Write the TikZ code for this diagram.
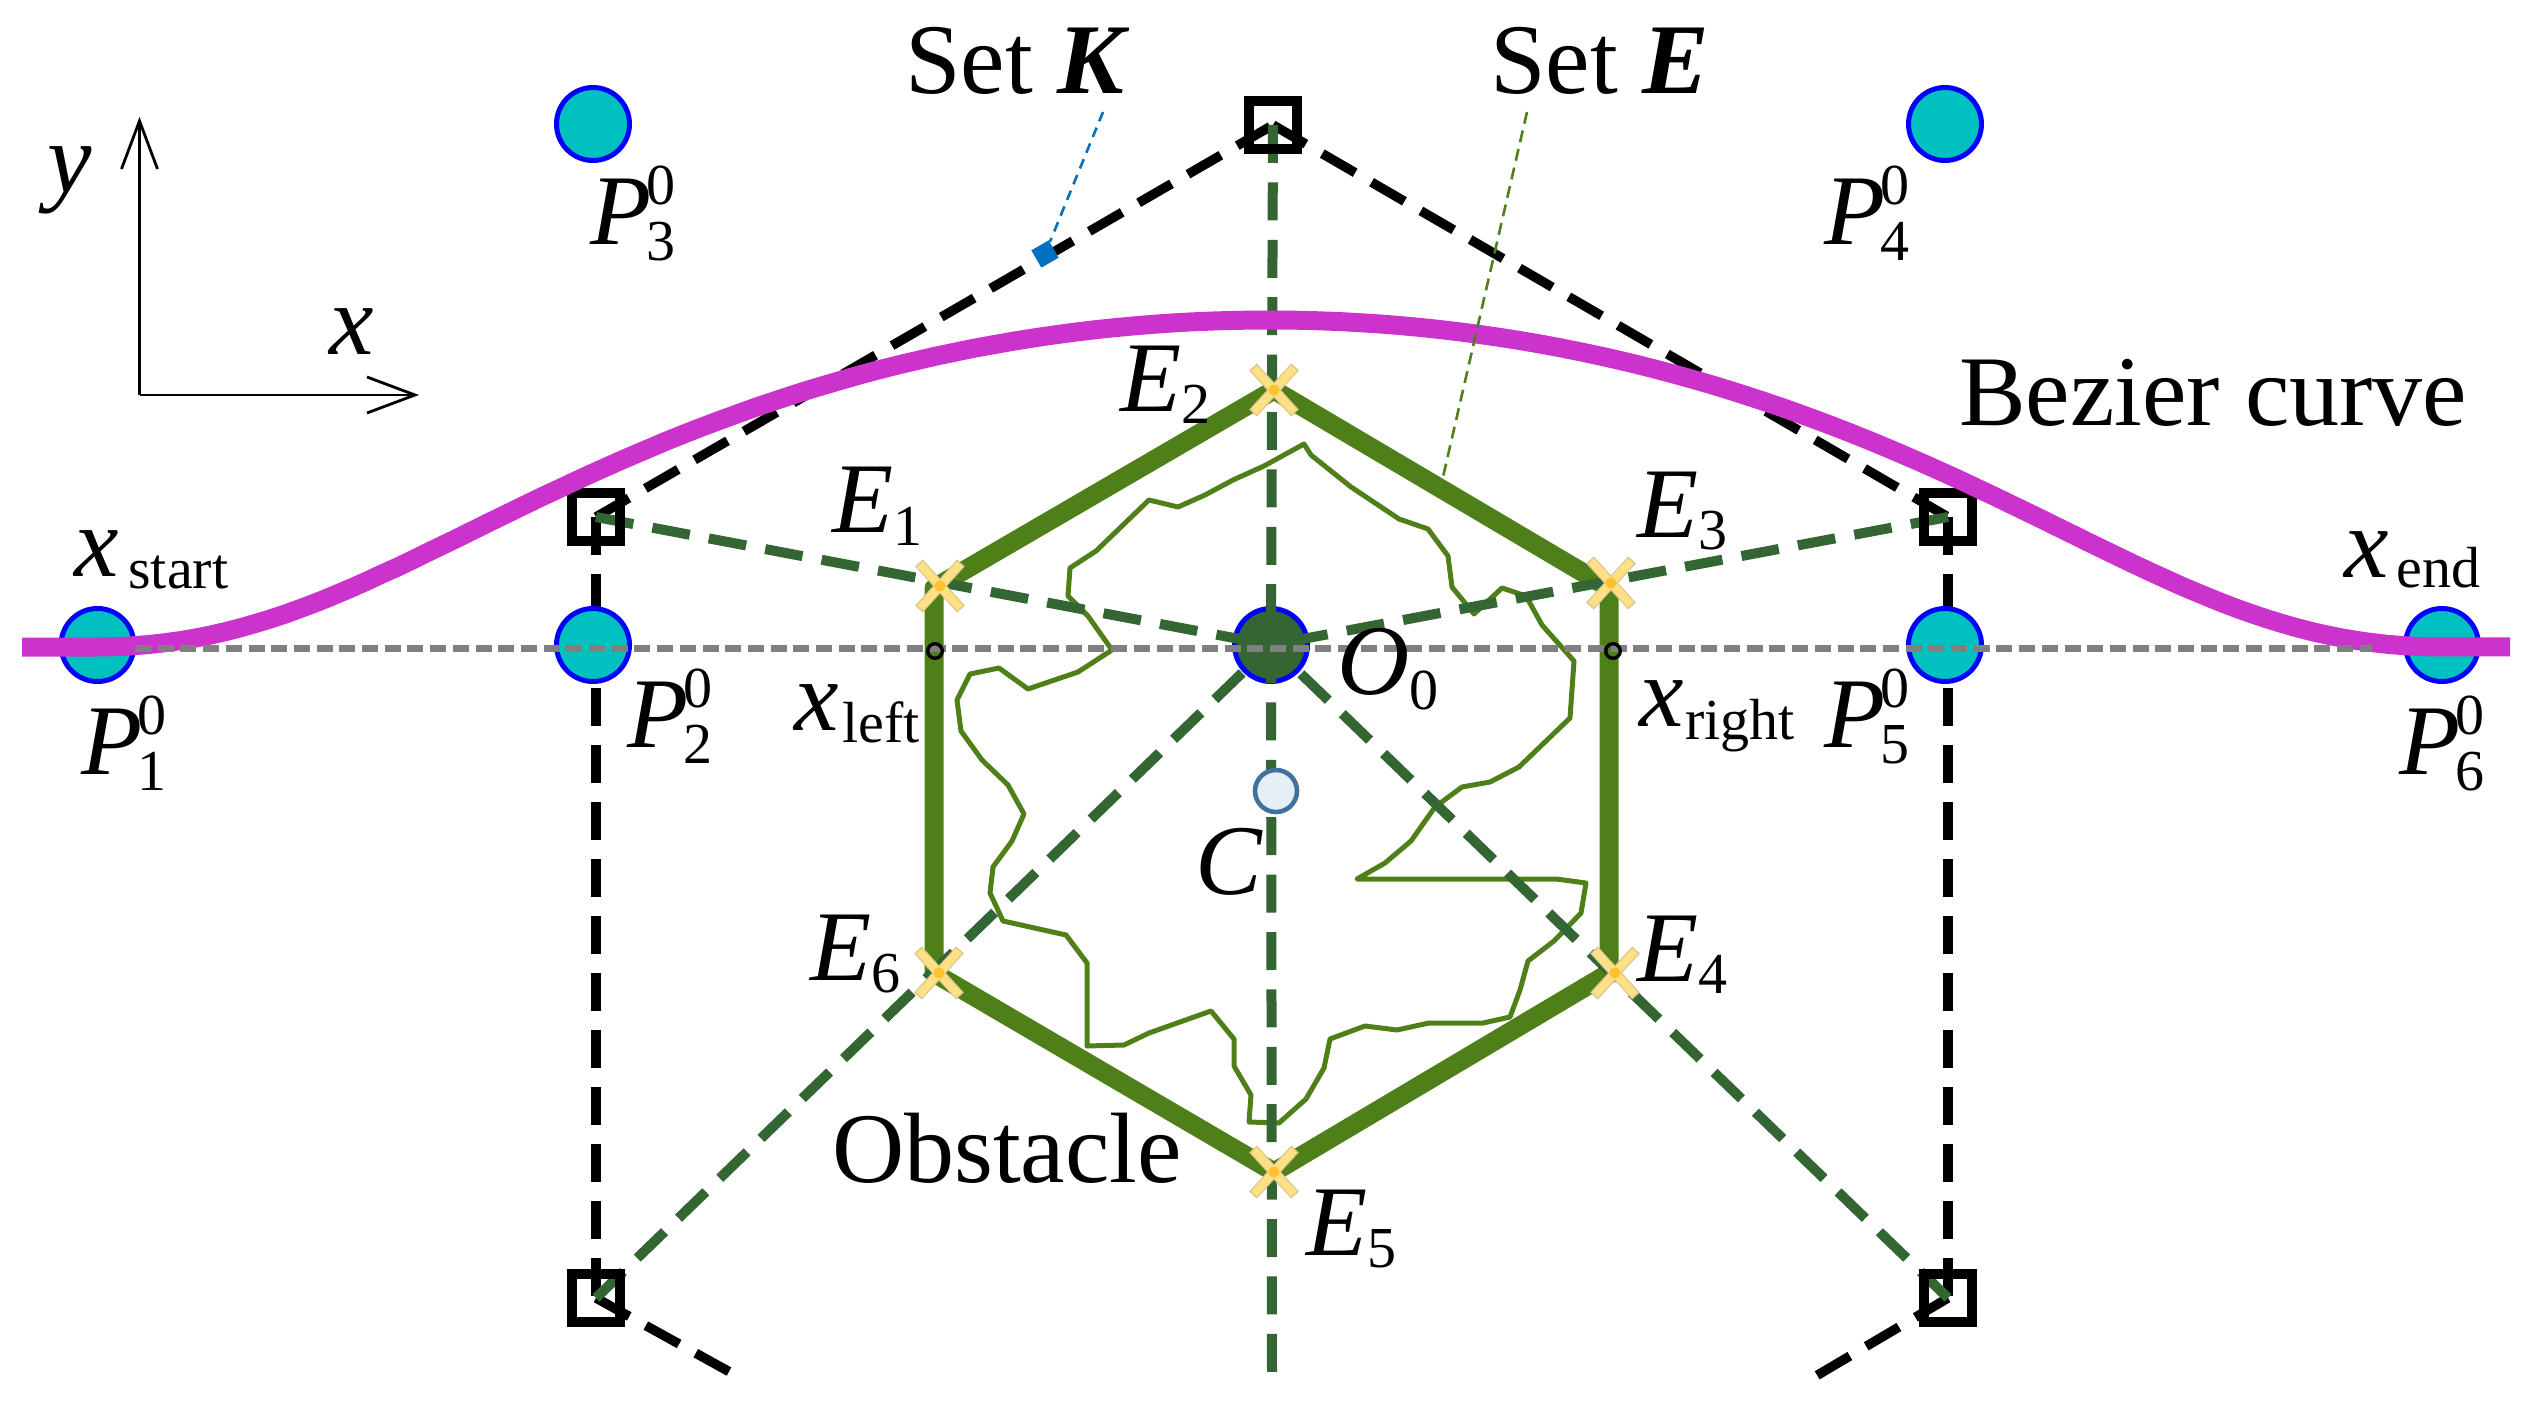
\documentclass[tikz,border=0pt]{standalone}
\usepackage{fontspec}
\setmainfont{Liberation Serif}
\usetikzlibrary{arrows.meta}
\definecolor{cyanfill}{HTML}{00C0C0}
\definecolor{ringblue}{HTML}{0000FF}
\definecolor{darkgr}{HTML}{336633}
\definecolor{hexgr}{HTML}{4F7F18}
\definecolor{magen}{HTML}{CC33CC}
\definecolor{setblue}{HTML}{0070C0}
\definecolor{xyellow}{HTML}{FFE084}
\definecolor{xedge}{HTML}{D8C48E}
\definecolor{xcore}{HTML}{FFC22E}
\definecolor{cring}{HTML}{41719C}
\definecolor{cpale}{HTML}{E6EFF8}
\definecolor{cmid}{HTML}{AECDE8}
\newcommand\sbf{\fontsize{29}{35}\selectfont}
\newcommand\PSym[1]{\textit{P}\kern-2.5pt\rlap{\raisebox{20pt}{\sbf 0}}\raisebox{-8pt}{\sbf #1}}
\newcommand\ESym[1]{\textit{E}\raisebox{-6pt}{\sbf #1}}
\tikzset{
  lab/.style={inner sep=0pt,outer sep=0pt,anchor=base west,font=\fontsize{50}{60}\selectfont},
  ctrl/.style={circle,draw=ringblue,fill=cyanfill,line width=2.5pt,minimum size=36.5pt,inner sep=0pt},
  sq/.style={rectangle,draw=black,line width=5pt,minimum size=24pt,inner sep=0pt},
  blackdash/.style={draw=black,line width=4.75pt,dash pattern=on 19pt off 9.5pt},
  greendash/.style={draw=darkgr,line width=5pt,dash pattern=on 19pt off 9.7pt},
  greydash/.style={draw=gray,line width=3.2pt,dash pattern=on 8pt off 3.35pt},
  hexline/.style={draw=hexgr,line width=9.5pt},
  blob/.style={draw=hexgr,line width=2.5pt,line join=round},
  axis/.style={draw=black,line width=1.4pt,-{Straight Barb[length=24pt,width=18pt,line width=1.4pt]}},
  xedgebar/.style={draw=xedge,line width=5.2pt},
  xbar/.style={draw=xyellow,line width=4pt},
  tick/.style={circle,draw=black,line width=1.7pt,minimum size=7.3pt,inner sep=0pt},
}
\begin{document}
\begin{tikzpicture}[x=0.5pt,y=-0.5pt]
\useasboundingbox (0,0) rectangle (2529,1401);
% vertices
\coordinate (E1) at (940,586);
\coordinate (E2) at (1274,390);
\coordinate (E3) at (1611,583);
\coordinate (E4) at (1615,973);
\coordinate (E5) at (1274,1172);
\coordinate (E6) at (939,973);
\coordinate (H1) at (934,588);
\coordinate (H3) at (1609,588);
\coordinate (H4) at (1609,973);
\coordinate (H6) at (934,973);
\coordinate (curveL) at (22,647);
\coordinate (curveR) at (2510,647);
\coordinate (greyL) at (135,648.5);
\coordinate (greyR) at (2372,648.5);
\coordinate (botL) at (737,1376);
\coordinate (botR) at (1816,1376);
\coordinate (botC) at (1272,1376);
\coordinate (kTop) at (1103,112);
\coordinate (eTop) at (1527,112);
\coordinate (eEnd) at (1443,477);
\coordinate (orig) at (139.5,395);
\coordinate (yTip) at (139.5,117);
\coordinate (xTip) at (419,395);
% squares (positions used for connectors)
\coordinate (S1) at (596,517);
\coordinate (S2) at (1273,125);
\coordinate (S3) at (1948,517);
\coordinate (S4) at (1948,1298);
\coordinate (S5) at (596,1298);
\coordinate (OC) at (1271,645);
% black dashed hull
\draw[blackdash] (S1) -- (S2);
\draw[blackdash] (S2) -- (S3);
\draw[blackdash] (S3) -- (S4);
\draw[blackdash] (S1) -- (S5);
\draw[blackdash] (S5) -- (botL);
\draw[blackdash] (S4) -- (botR);
% obstacle
\draw[blob] (1304,444) -- (1264,466) -- (1233,480) -- (1205,495) -- (1178,507) -- (1149,500) -- (1096,551) -- (1070,568) -- (1068,596) -- (1088,616) -- (1112,650) -- (1078,672) -- (1028,689) -- (999,668) -- (970,674) -- (957,700) -- (961,731) -- (982,760) -- (1008,785) -- (1024,814) -- (1012,841) -- (993,867) -- (990,893) -- (1003,921) -- (1066,935) -- (1087,963) -- (1087,1046) -- (1124,1045) -- (1149,1033) -- (1211,1011) -- (1234,1039) -- (1234,1066) -- (1251,1095) -- (1249,1122) -- (1279,1123) -- (1306,1099) -- (1324,1068) -- (1330,1039) -- (1365,1026) -- (1397,1030) -- (1429,1023) -- (1483,1023) -- (1510,1017) -- (1520,990) -- (1528,961) -- (1554,941) -- (1581,913) -- (1586,883) -- (1556,879) -- (1357,879) -- (1385,863) -- (1411,841) -- (1435,807) -- (1462,787) -- (1490,782) -- (1519,767) -- (1570,718) -- (1574,661) -- (1542,625) -- (1526,596) -- (1502,588) -- (1474,614) -- (1452,587) -- (1448,556) -- (1428,529) -- (1399,519) -- (1351,487) -- (1311,455) -- cycle;
% hexagon
\draw[hexline,line join=round] (H1) -- (E2) -- (H3) -- (H4) -- (E5) -- (H6) -- cycle;
% centre circle under its spokes
\node[ctrl,fill=darkgr] (O0) at (OC) {};
% green dashed spokes
\draw[greendash] (S1) -- (OC);
\draw[greendash] (S3) -- (OC);
\draw[greendash] (S5) -- (OC);
\draw[greendash] (S4) -- (OC);
\draw[greendash] (S2) -- (OC);
\draw[greendash] (OC) -- (botC);
% control circles
\node[ctrl] (P1) at (97.5,645) {};
\node[ctrl] (P2) at (593,645) {};
\node[ctrl] (P3) at (593,124) {};
\node[ctrl] (P4) at (1945,124) {};
\node[ctrl] (P5) at (1945,645) {};
\node[ctrl] (P6) at (2442,645) {};
% squares
\node[sq] (K1) at (S1) {};
\node[sq] (K2) at (S2) {};
\node[sq] (K3) at (S3) {};
\node[sq] (K4) at (S4) {};
\node[sq] (K5) at (S5) {};
% bezier
\draw[draw=magen,line width=9.5pt,line join=round] (curveL) -- plot[domain=0:1,samples=140,variable=\t]
 ({97*(1-\t)^5+(1-\t)^4*\t*5*593+(1-\t)^3*\t^2*10*593+(1-\t)^2*\t^3*10*1945+(1-\t)*\t^4*5*1945+\t^5*2442},
  {647*((1-\t)^5+(1-\t)^4*\t*5+(1-\t)*\t^4*5+\t^5)+((1-\t)^3*\t^2+(1-\t)^2*\t^3)*1240}) -- (curveR);
% grey axis
\draw[greydash] (greyL) -- (greyR);
% x marks
\foreach \v in {E1,E2,E3,E4,E5,E6}{
  \draw[xedgebar] ([shift={(-21,-23)}]\v) -- ([shift={(21,23)}]\v);
  \draw[xedgebar] ([shift={(21,-23)}]\v) -- ([shift={(-21,23)}]\v);
  \draw[xbar] ([shift={(-20,-22)}]\v) -- ([shift={(20,22)}]\v);
  \draw[xbar] ([shift={(20,-22)}]\v) -- ([shift={(-20,22)}]\v);
  \fill[xcore] (\v) circle[radius=2.8pt];
}
% small markers
\node[tick] (XL) at (935,651) {};
\node[tick] (XR) at (1613,651) {};
% C
\node[circle,draw=cring,line width=2.3pt,top color=cpale,middle color=cmid,bottom color=cpale,minimum size=21pt,inner sep=0pt] (CC) at (1276,791) {};
% set leaders
\node[rectangle,fill=setblue,rotate=30,minimum size=10pt,inner sep=0pt] (KM) at (1045,254) {};
\draw[draw=setblue,line width=1.3pt,dash pattern=on 5pt off 3.5pt] (kTop) -- (KM);
\draw[draw=hexgr,line width=1.3pt,dash pattern=on 6pt off 3.5pt] (eTop) -- (eEnd);
% axes
\draw[axis] (orig) -- (yTip);
\draw[axis] (orig) -- (xTip);
% labels
\node[lab] (ly) at (47,193) {\textit{y}};
\node[lab] (lx) at (329,355) {\textit{x}};
\node[lab] (lP1) at (81,774) {\PSym{1}};
\node[lab] (lP2) at (627,747) {\PSym{2}};
\node[lab] (lP3) at (590,245) {\PSym{3}};
\node[lab] (lP4) at (1824,245) {\PSym{4}};
\node[lab] (lP5) at (1824,747) {\PSym{5}};
\node[lab] (lP6) at (2399,774) {\PSym{6}};
\node[lab] (lE1) at (832,533) {\ESym{1}};
\node[lab] (lE2) at (1120,412) {\ESym{2}};
\node[lab] (lE3) at (1637,538) {\ESym{3}};
\node[lab] (lE4) at (1637,981) {\ESym{4}};
\node[lab] (lE5) at (1306,1255) {\ESym{5}};
\node[lab] (lE6) at (810,980) {\ESym{6}};
\node[lab] (lstart) at (74,576) {\textit{x}\kern5pt\raisebox{-6pt}{\sbf start}};
\node[lab] (lend) at (2344,578) {\textit{x}\kern4pt\raisebox{-5pt}{\sbf end}};
\node[lab] (lleft) at (794,730) {\textit{x}\kern2pt\raisebox{-6pt}{\sbf left}};
\node[lab] (lright) at (1639,726) {\textit{x}\kern1pt\raisebox{-6.5pt}{\sbf right}};
\node[lab] (lO) at (1337,694) {\textit{O}\raisebox{-7.5pt}{\sbf 0}};
\node[lab] (lC) at (1195,894) {\textit{C}};
\node[lab] (lobs) at (832,1182) {Obstacle};
\node[lab] (lbez) at (1959,426) {Bezier curve};
\node[lab] (lK) at (905,94) {Set \textbf{\textit{K}}};
\node[lab] (lEset) at (1490,94) {Set \textbf{\textit{E}}};
\end{tikzpicture}
\end{document}
